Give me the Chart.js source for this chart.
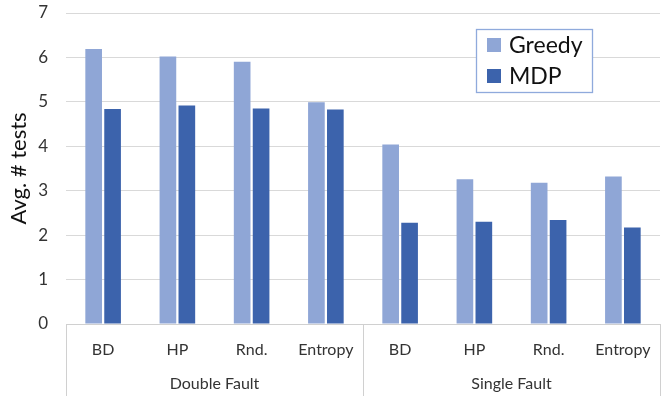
<!DOCTYPE html>
<html>
<head>
<meta charset="utf-8">
<script src="https://cdn.jsdelivr.net/npm/chart.js@4"></script>
<style>
html,body{margin:0;padding:0;background:#fff;}
#wrap{width:669px;height:398px;position:relative;}
</style>
</head>
<body>
<div id="wrap"><canvas id="c" width="669" height="398"></canvas></div>
<script>
const groups = ["Double Fault", "Single Fault"];
const groupSizes = [4, 4];
const categories = ["BD", "HP", "Rnd.", "Entropy", "BD", "HP", "Rnd.", "Entropy"];
const greedy = [6.19, 6.02, 5.90, 4.99, 4.04, 3.26, 3.18, 3.32];
const mdp = [4.84, 4.92, 4.85, 4.83, 2.28, 2.30, 2.34, 2.17];
const yTicks = [0, 1, 2, 3, 4, 5, 6, 7];
const yTitle = "Avg. # tests";

const FONT = "Lato, 'Open Sans', sans-serif";
const TXT = "#333333";

const groupPlugin = {
  id: "groupPlugin",
  afterDraw(chart) {
    const ctx = chart.ctx, a = chart.chartArea, xs = chart.scales.x;
    ctx.save();
    ctx.strokeStyle = "#D0D0D0";
    ctx.lineWidth = 1;
    ctx.beginPath();
    ctx.moveTo(a.left, a.bottom + 0.5);
    ctx.lineTo(a.right, a.bottom + 0.5);
    ctx.stroke();
    const n = categories.length;
    const bx = i => i === 0 ? a.left : i === n ? a.right : (xs.getPixelForValue(i - 1) + xs.getPixelForValue(i)) / 2;
    let start = 0;
    const bounds = [0];
    groupSizes.forEach(s => { start += s; bounds.push(start); });
    bounds.forEach(b => {
      const x = Math.round(bx(b)) + 0.5;
      ctx.beginPath();
      ctx.moveTo(x, a.bottom);
      ctx.lineTo(x, a.bottom + 72);
      ctx.stroke();
    });
    ctx.fillStyle = TXT;
    ctx.font = "16px " + FONT;
    ctx.textAlign = "center";
    ctx.textBaseline = "middle";
    groups.forEach((g, i) => {
      const x = (bx(bounds[i]) + bx(bounds[i + 1])) / 2;
      ctx.fillText(g, x, a.bottom + 60);
    });
    const lx = 476, ly = 29, lw = 116, lh = 63;
    ctx.fillStyle = "#fff";
    ctx.fillRect(lx, ly, lw, lh);
    ctx.strokeStyle = "#8FAADC";
    ctx.lineWidth = 1.3;
    ctx.strokeRect(lx + 0.5, ly + 0.5, lw, lh);
    ctx.font = "23px " + FONT;
    ctx.textAlign = "left";
    chart.data.datasets.forEach((ds, i) => {
      const cy = 45 + i * 31;
      ctx.fillStyle = ds.backgroundColor;
      ctx.fillRect(487, cy - 7, 14, 14);
      ctx.fillStyle = "#111";
      ctx.fillText(ds.label, 509, cy + 1);
    });
    ctx.restore();
  }
};

new Chart(document.getElementById("c"), {
  type: "bar",
  data: {
    labels: categories,
    datasets: [
      { label: "Greedy", data: greedy, backgroundColor: "#8FA6D6", categoryPercentage: 0.51, barPercentage: 0.88 },
      { label: "MDP", data: mdp, backgroundColor: "#3C63AC", categoryPercentage: 0.51, barPercentage: 0.88 }
    ]
  },
  options: {
    responsive: false,
    animation: false,
    devicePixelRatio: 1,
    layout: { padding: { left: 0, right: 9, top: 13, bottom: 0 } },
    plugins: { legend: { display: false }, tooltip: { enabled: false } },
    scales: {
      x: {
        grid: { display: false, drawTicks: false },
        border: { display: false },
        ticks: { color: TXT, font: { family: FONT, size: 16 }, padding: 16, maxRotation: 0, autoSkip: false },
        afterFit: s => { s.height = 74; s.paddingLeft = 0; s.paddingRight = 0; }
      },
      y: {
        min: 0, max: 7,
        afterBuildTicks: s => { s.ticks = yTicks.map(v => ({ value: v })); },
        grid: { color: "#D9D9D9", lineWidth: 1, drawTicks: false },
        border: { display: false },
        ticks: { color: TXT, font: { family: FONT, size: 17 }, padding: 18 },
        title: { display: true, text: yTitle, color: "#111", font: { family: FONT, size: 22 }, padding: { top: 6, bottom: 0 } },
        afterFit: s => { s.width = 66; s.paddingTop = 0; s.paddingBottom = 0; }
      }
    }
  },
  plugins: [groupPlugin]
});
</script>
</body>
</html>
